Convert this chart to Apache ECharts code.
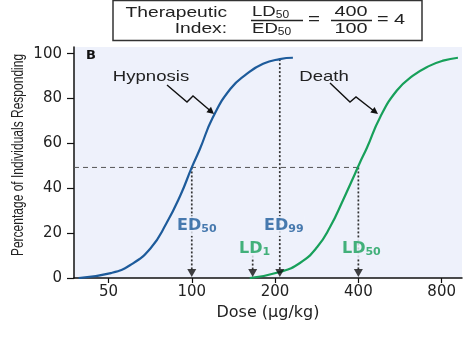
<!DOCTYPE html>
<html><head><meta charset="utf-8">
<script src="https://cdn.jsdelivr.net/npm/echarts@6/dist/echarts.min.js"></script>
<style>html,body{margin:0;padding:0;background:#fff;}#c{width:474px;height:355px;}</style>
</head><body><div id="c"></div>
<script>
// ---- data ----
const xTicks = [50, 100, 200, 400, 800];
const yTicks = [0, 20, 40, 60, 80, 100];
const hypnosisDose = [39, 51, 60, 71, 81, 91, 100, 107, 119, 138, 158, 181, 208, 232];
const hypnosisPct  = [0, 2.2, 5.8, 13.3, 24.4, 36.9, 49.3, 57.5, 71.4, 84.4, 91, 95.5, 97.6, 98.2];
const deathDose = [162, 208, 246, 284, 316, 352, 389, 405, 430, 479, 551, 630, 726, 809, 916];
const deathPct  = [0, 2.7, 6.7, 13.8, 22.7, 34.7, 46.5, 51.4, 58.2, 71.6, 83.6, 90.2, 94.7, 96.9, 98.2];
const markerMain = ['ED', 'ED', 'LD', 'LD'];
const markerSub  = ['50', '99', '1', '50'];
const markerDose = [100, 208, 166, 400];
const markerTop  = [49.3, 97.6, 10, 49.3];
const referencePct = 49.3;
const referenceEndDose = 400;

// ---- layout / style ----
const BLUE = '#1d5b9b', GREEN = '#17a05a', BG = '#eef1fb', INK = '#222';
const FONT = 'Liberation Sans, Arial, sans-serif';
const WIDE = 'DejaVu Sans, sans-serif';
const L2 = Math.log2;
const xMin = 5.23, xMax = 9.888;
const markerColor = [BLUE, BLUE, GREEN, GREEN];
const labelPct = [23.2, 23.2, 13, 13];
const labelDx = [5, 4, 2, 3];
const SX = 1.28;

const chart = echarts.init(document.getElementById('c'), null, {renderer: 'canvas'});

const series = [];
markerDose.forEach((d, i) => {
  series.push({
    type: 'line', silent: true, symbol: 'none', z: 2,
    data: [[L2(d), markerTop[i]], [L2(d), 3.2]],
    lineStyle: {color: '#333', width: 1.7, type: [2, 2]}
  });
});
series.push({
  type: 'line', silent: true, symbol: 'none', z: 2,
  data: [[xMin, referencePct], [L2(referenceEndDose), referencePct]],
  lineStyle: {color: '#555', width: 1, type: [5, 4]}
});
series.push({
  type: 'line', symbol: 'none', smooth: 0.5, z: 3,
  data: hypnosisDose.map((d, i) => [L2(d), hypnosisPct[i]]),
  lineStyle: {color: BLUE, width: 2.2}
});
series.push({
  type: 'line', symbol: 'none', smooth: 0.5, z: 3,
  data: deathDose.map((d, i) => [L2(d), deathPct[i]]),
  lineStyle: {color: GREEN, width: 2.2}
});
series.push({
  type: 'scatter', silent: true, z: 4,
  symbol: 'triangle', symbolRotate: 180, symbolSize: [9, 8],
  itemStyle: {color: '#111'},
  data: markerDose.map(d => [L2(d), 2.2])
});
series.push({
  type: 'scatter', silent: true, z: 5, symbolSize: 0,
  data: markerDose.map((d, i) => ({
    value: [L2(d), labelPct[i]],
    label: {
      show: true, position: 'inside', offset: [labelDx[i], 0],
      formatter: '{m|' + markerMain[i] + '}{s|' + markerSub[i] + '}',
      backgroundColor: BG, padding: [1, 1, 1, 1],
      rich: {
        m: {fontFamily: WIDE, fontWeight: 'bold', fontSize: 16, color: markerColor[i]},
        s: {fontFamily: WIDE, fontWeight: 'bold', fontSize: 11, color: markerColor[i], padding: [7, 0, 0, 0]}
      }
    }
  }))
});

function txt(x, y, text, size, align, extra) {
  return Object.assign({type: 'text', x: x, y: y, scaleX: SX, z: 11,
    style: {text: text, fontFamily: FONT, fontSize: size, fill: INK, align: align, verticalAlign: 'middle'}}, extra || {});
}
function subTxt(x, y, main, s) {
  return {type: 'text', x: x, y: y, scaleX: 1.2, z: 11,
    style: {text: '{m|' + main + '}{s|' + s + '}', align: 'left', verticalAlign: 'middle',
      rich: {
        m: {fontFamily: FONT, fontSize: 15.5, fill: INK},
        s: {fontFamily: FONT, fontSize: 10, fill: INK, padding: [7, 0, 0, 0]}
      }}};
}

const option = {
  animation: false,
  backgroundColor: '#fff',
  grid: {left: 74, top: 47, right: 12, bottom: 77, show: true, backgroundColor: BG, borderWidth: 0, containLabel: false},
  xAxis: {
    type: 'value', min: xMin, max: xMax,
    name: 'Dose (µg/kg)', nameLocation: 'middle', nameGap: 20,
    nameTextStyle: {fontFamily: WIDE, fontSize: 16, color: INK},
    axisLine: {show: true, onZero: false, lineStyle: {color: '#111', width: 1.5}},
    axisTick: {show: true, length: 5, customValues: xTicks.map(L2), lineStyle: {color: '#111', width: 1.2}},
    axisLabel: {customValues: xTicks.map(L2), formatter: v => String(Math.round(Math.pow(2, v))),
      fontFamily: WIDE, fontSize: 15, color: INK, margin: 7},
    splitLine: {show: false}
  },
  yAxis: {
    type: 'value', min: 0, max: 103,
    axisLine: {show: true, lineStyle: {color: '#111', width: 1.5}},
    axisTick: {show: true, length: 7, customValues: yTicks, lineStyle: {color: '#111', width: 1.2}},
    axisLabel: {customValues: yTicks, fontFamily: WIDE, fontSize: 15, color: INK, margin: 12},
    splitLine: {show: false}
  },
  series: series,
  graphic: [
    {type: 'rect', shape: {x: 113, y: 0.5, width: 309, height: 40}, style: {fill: '#fff', stroke: '#333', lineWidth: 1.5}, z: 10},
    txt(227, 13, 'Therapeutic', 15, 'right'),
    txt(227, 29, 'Index:', 15, 'right'),
    subTxt(252, 12, 'LD', '50'),
    subTxt(252, 29, 'ED', '50'),
    {type: 'line', shape: {x1: 251, y1: 20.5, x2: 303, y2: 20.5}, style: {stroke: INK, lineWidth: 1.3}, z: 11},
    txt(314, 20, '=', 16, 'center'),
    txt(351, 12, '400', 15.5, 'center'),
    txt(351, 29, '100', 15.5, 'center'),
    {type: 'line', shape: {x1: 331, y1: 20.5, x2: 372, y2: 20.5}, style: {stroke: INK, lineWidth: 1.3}, z: 11},
    txt(377, 20, '= 4', 15.5, 'left'),
    {type: 'text', x: 19, y: 155, rotation: Math.PI / 2, scaleY: 1.3, z: 11,
      style: {text: 'Percentage of Individuals Responding', fontFamily: FONT, fontSize: 12, fill: INK, align: 'center', verticalAlign: 'middle'}},
    {type: 'text', x: 86, y: 56, z: 11, style: {text: 'B', fontFamily: WIDE, fontWeight: 'bold', fontSize: 13, fill: '#111', align: 'left', verticalAlign: 'middle'}},
    txt(151, 77, 'Hypnosis', 14.5, 'center'),
    txt(324, 77, 'Death', 14.5, 'center'),
    {type: 'polyline', shape: {points: [[167, 85], [187, 102], [193, 96], [210, 110.5]]}, style: {stroke: '#111', lineWidth: 1.4, fill: null}, z: 11},
    {type: 'polygon', shape: {points: [[214, 114], [206.4, 112.2], [211, 106.8]]}, style: {fill: '#111'}, z: 11},
    {type: 'polyline', shape: {points: [[330, 83], [350, 102], [356, 97], [374, 111]]}, style: {stroke: '#111', lineWidth: 1.4, fill: null}, z: 11},
    {type: 'polygon', shape: {points: [[378, 114], [370.3, 112.5], [374.6, 106.9]]}, style: {fill: '#111'}, z: 11}
  ]
};
chart.setOption(option);
</script>
</body></html>
